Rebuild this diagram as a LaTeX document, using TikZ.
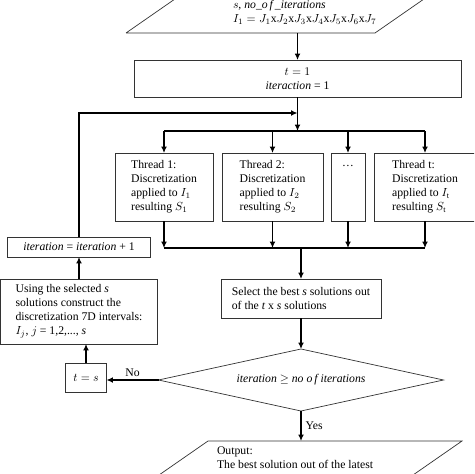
\documentclass[tikz,border=0pt]{standalone}
\usepackage{amsmath}
\usepackage{amssymb}
\usepackage{fontspec}
\setmainfont{Liberation Serif}
\usepackage{tikz}
\usetikzlibrary{shapes.geometric, arrows.meta}

\begin{document}
\begin{tikzpicture}[
		x=0.03cm, y=-0.03cm,
		every node/.style={inner sep=0, outer sep=0},
		box/.style={draw=black!80, line width=0.6pt},
		wh/.style 2 args={minimum width=#1*0.03cm, minimum height=#2*0.03cm},
		arr/.style={-{Latex[length=5.5pt, width=5pt]}, line width=1.4pt},
		ln/.style={line width=1.4pt}
	]
  \useasboundingbox (0,0) rectangle (474,474);
  \clip (0,0) rectangle (474,474);
  % input
  \draw[box] (126,33) -- (375,33) -- ++(72,-50) (126,33) -- ++(72,-50);
  \node (intxt) [align=left, anchor=north west] at (233,0) {$s$, \textit{no\_o\,f\,\_iterations}\\$I_1 = J_1\mathrm{x}J_2\mathrm{x}J_3\mathrm{x}J_4\mathrm{x}J_5\mathrm{x}J_6\mathrm{x}J_7$};
  \coordinate (in) at (297.5,33);
  \node (init) [box, wh={327}{37}, align=center] at (297.5,78.5) {$t = 1$\\\textit{iteraction} = 1};
  \coordinate (merge) at (297.5,113);
  \coordinate (split) at (297.5,131);
  \coordinate (gather) at (301,248);
  % threads
  \node (th1) [box, wh={98}{68}, align=left] at (164,187) {Thread 1:\\Discretization\\applied to $I_1$\\resulting $S_1$};
  \node (th2) [box, wh={101}{68}, align=left] at (272.5,187) {Thread 2:\\Discretization\\applied to $I_2$\\resulting $S_2$};
  \node (dots) [box, wh={34}{68}, align=center] at (348,187) {\dots\\~\\~\\~};
  \node (tht) [box, wh={102}{68}, align=left] at (425,187) {Thread t:\\Discretization\\applied to $I_{\mathrm{t}}$\\resulting $S_{\mathrm{t}}$};
  \node (sel) [box, wh={160}{39}, align=left] at (301,298.5) {Select the best \textit{s} solutions out\\of the \textit{t} x \textit{s} solutions};
  \node (dec) [draw=black!80, line width=0.6pt, diamond, aspect=4.6, wh={285}{62}] at (301,380) {\textit{iteration} $\geq$ \textit{no o\,f iterations}};
  % loop back
  \node (tes) [box, wh={41}{29}] at (86,377.5) {$t = s$};
  \node (cons) [box, wh={157}{65}, align=left] at (79,311.5) {Using the selected \textit{s}\\solutions construct the\\discretization 7D intervals:\\$I_j$, $j$ = 1,2,..., \textit{s}};
  \node (iter) [box, wh={143}{20}] at (79,247) {\textit{iteration} = \textit{iteration} + 1};
  % output
  \draw[box] (208,441) -- (462,441) -- ++(-72,50) (208,441) -- ++(-72,50);
  \node (outtxt) [align=left, anchor=north west] at (217,447) {Output:\\The best solution out of the latest};
  \coordinate (out) at (301,441);
  \draw[arr] (in) -- (init);
  \draw[arr] (init) -- (split);
  \draw[ln] (th1 |- split) -- (tht |- split);
  \draw[ln] (th1 |- gather) -- (tht |- gather);
  \foreach \t in {th1,th2,dots,tht} {
    \draw[arr] (\t |- split) -- (\t.north);
    \draw[arr] (\t.south) -- (\t |- gather);
  }
  \draw[arr] (gather) -- (sel);
  \draw[arr] (sel) -- (dec);
  \draw[arr] (dec.south) -- node (yes) [right=4pt] {Yes} (out);
  \draw[arr] (dec.west) -- node (no) [above=3pt] {No} (tes.east |- dec.west);
  \draw[arr] (tes.north) -- (tes.north |- cons.south);
  \draw[arr] (cons) -- (iter);
  \draw[arr] (iter.north) |- (merge);
\end{tikzpicture}
\end{document}
